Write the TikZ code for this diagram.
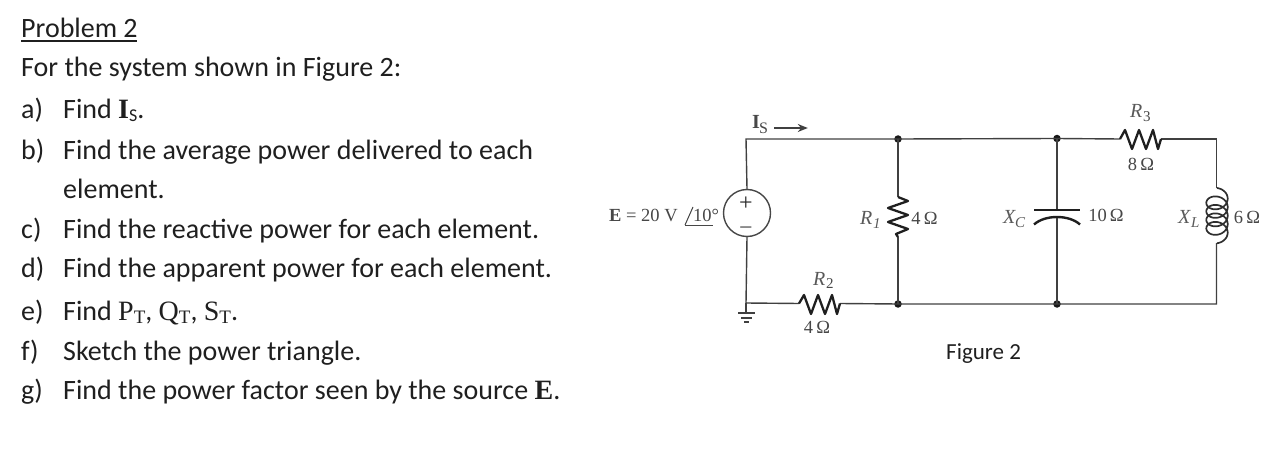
\documentclass[tikz,border=0pt]{standalone}
\usepackage{fontspec}
\usetikzlibrary{arrows.meta}
\setmainfont{Carlito}
\newfontfamily\serf{Liberation Serif}
\tikzset{
  x=1pt,y=-1pt,
  prob/.style={anchor=base west,inner sep=0pt,text=black!88,font=\fontsize{28}{32}\selectfont},
  lab/.style={inner sep=0pt,text=black!72,font=\serf\fontsize{18.5}{22}\selectfont},
  ilab/.style={inner sep=0pt,text=black!65,font=\serf\itshape\fontsize{20}{24}\selectfont},
  wire/.style={draw=black!75,line width=1.4pt},
  comp/.style={draw=black!88,line width=2.3pt,line join=round},
  jdot/.style={circle,fill=black!90,inner sep=0pt,minimum size=7.5pt},
  src/.style={circle,draw=black!72,line width=1.4pt,minimum size=47pt,inner sep=0pt},
  term/.style={inner sep=0pt,minimum size=0pt}
}
\newcommand{\bser}[2]{{\serf\textbf{#1}}{\fontsize{18}{19}\selectfont\raisebox{-3pt}{#2}}}
\newcommand{\pser}[2]{{\serf #1}{\serf\fontsize{19}{19}\selectfont\raisebox{-3pt}{#2}}}
\begin{document}
\begin{tikzpicture}
\useasboundingbox (0,0) rectangle (1279,449);
% text
\node[prob] (t0) at (21,38) {Problem 2};
\draw[black!88,line width=1.1pt] (21,41) -- (137,41);
\node[prob] (t1) at (21,77) {For the system shown in Figure 2:};
\node[prob] (a0) at (21,119) {a)}; \node[prob] (a1) at (63,119) {Find \bser{I}{S}.};
\node[prob] (b0) at (21,160) {b)}; \node[prob] (b1) at (63,160) {Find the average power delivered to each};
\node[prob] (b2) at (63,199) {element.};
\node[prob] (c0) at (21,238) {c)}; \node[prob] (c1) at (63,238) {Find the reactive power for each element.};
\node[prob] (d0) at (21,277) {d)}; \node[prob] (d1) at (63,277) {Find the apparent power for each element.};
\node[prob] (e0) at (21,320) {e)}; \node[prob] (e1) at (63,320) {Find \pser{P}{T}, \pser{Q}{T}, \pser{S}{T}.};
\node[prob] (f0) at (21,360) {f)}; \node[prob] (f1) at (63,360) {Sketch the power triangle.};
\node[prob] (g0) at (21,399) {g)}; \node[prob] (g1) at (63,399) {Find the power factor seen by the source {\serf\textbf{E}}.};
\node[prob,font=\fontsize{23}{26}\selectfont] (fig) at (946,359) {Figure 2};
% nodes
\node[src] (E) at (747,213) {};
\node[term] (c1tl) at (746,139) {};
\node[term] (c1bl) at (746,303) {};
\node[jdot] (n1) at (898,139) {};
\node[jdot] (n2) at (898,304) {};
\node[jdot] (n3) at (1057,138.5) {};
\node[jdot] (n4) at (1057,304) {};
\node[term] (r1t) at (898,197) {};
\node[term] (r1b) at (898,237) {};
\node[term] (r2l) at (799,303.5) {};
\node[term] (r2r) at (840,303.5) {};
\node[term] (r3l) at (1120,139) {};
\node[term] (r3r) at (1161,139) {};
\node[term] (ctop) at (1057,210) {};
\node[term] (cbot) at (1057,217) {};
\node[term] (tr) at (1216.5,139) {};
\node[term] (br) at (1216.5,304) {};
\node[term] (lt) at (1216.5,188) {};
\node[term] (lb) at (1216.5,243) {};
\node[term] (gnd) at (746,313) {};
% wires
\draw[wire] (E.north) -- (c1tl.center) -- (n1.center) -- (n3.center) -- (r3l.center);
\draw[wire] (E.south) -- (c1bl.center) -- (r2l.center);
\draw[wire] (r2r.center) -- (n2.center) -- (n4.center) -- (br.center) -- (lb.center);
\draw[wire] (r3r.center) -- (tr.center) -- (lt.center);
\draw[wire] (n1.center) -- (r1t.center);
\draw[wire] (r1b.center) -- (n2.center);
\draw[wire] (n3.center) -- (ctop.center);
\draw[wire] (cbot.center) -- (n4.center);
\draw[wire] (c1bl.center) -- (gnd.center);
% ground
\draw[wire] (738,313) -- (755,313);
\draw[wire] (741,318) -- (752,318);
\draw[wire] (744,322) -- (749,322);
% resistors
\draw[comp] (r1t.center) -- (908,201) -- (888,208) -- (908,215) -- (888,222) -- (908,229) -- (896,234) -- (r1b.center);
\draw[comp] (r2l.center) -- (804,295) -- (811,314) -- (818,295) -- (825,314) -- (832,295) -- (837,314) -- (r2r.center);
\draw[comp] (r3l.center) -- (1125,130) -- (1132,149) -- (1139,130) -- (1146,149) -- (1153,130) -- (1158,149) -- (r3r.center);
% capacitor
\draw[comp,line width=2.8pt] (1034,210) -- (1080,210);
\draw[comp,line width=2.4pt] (1034,224.5) .. controls (1045,214.5) and (1069,214.5) .. (1080,224.5);
% inductor
\draw[draw=black!82,line width=1.7pt,smooth,samples=180,domain=-90:1530]
  plot ({1217+10.7*cos(\x)}, {196.5+(\x+90)/360*8.5+8.5*sin(\x)});
% source signs
\node[lab,anchor=base,font=\serf\fontsize{24}{24}\selectfont,text=black!85] (plus) at (746,211) {\smash{+}};
\node[lab,anchor=base,font=\serf\fontsize{24}{24}\selectfont] (minus) at (746,235) {\smash{\textminus}};
% arrow
\node[term] (ia) at (774,128) {};
\node[term] (ib) at (808,128) {};
\draw[wire,-{Stealth[length=10pt,width=8pt]}] (ia) -- (ib);
% labels
\node[lab,anchor=base west,font=\serf\bfseries\fontsize{20}{22}\selectfont] (Is) at (752,129) {I};
\node[lab,anchor=base west,font=\serf\fontsize{16}{18}\selectfont] (Iss) at (759,134) {S};
\node[lab,anchor=base west] (Elab) at (609,222) {\textbf{E} = 20 V};
\node[lab,anchor=base west] (Eang) at (693,222) {10°};
\draw[black!72,line width=1pt] (685,225) -- (693,207);
\draw[black!72,line width=1pt] (685,225) -- (713,225);
\node[ilab,anchor=base west] (R1) at (860,224) {R};
\node[ilab,anchor=base west,font=\serf\itshape\fontsize{15}{16}\selectfont] (R1s) at (873,228) {1};
\node[lab,anchor=base] (R1v) at (924.5,224) {4\,Ω};
\node[ilab,anchor=base west] (R2) at (813,285) {R};
\node[lab,anchor=base west,font=\serf\fontsize{15}{16}\selectfont] (R2s) at (826,288) {2};
\node[lab,anchor=base] (R2v) at (817,333) {4\,Ω};
\node[ilab,anchor=base west] (R3) at (1130,118) {R};
\node[lab,anchor=base west,font=\serf\fontsize{15}{16}\selectfont] (R3s) at (1143,122) {3};
\node[lab,anchor=base] (R3v) at (1141,171) {8\,Ω};
\node[ilab,anchor=base west] (Xc) at (1003,223) {X};
\node[ilab,anchor=base west,font=\serf\itshape\fontsize{15}{16}\selectfont] (Xcs) at (1015,227) {C};
\node[lab,anchor=base] (Xcv) at (1106,222) {10\,Ω};
\node[ilab,anchor=base west] (Xl) at (1178,223) {X};
\node[ilab,anchor=base west,font=\serf\itshape\fontsize{15}{16}\selectfont] (Xls) at (1191,227) {L};
\node[lab,anchor=base] (Xlv) at (1247,223) {6\,Ω};
\end{tikzpicture}
\end{document}
